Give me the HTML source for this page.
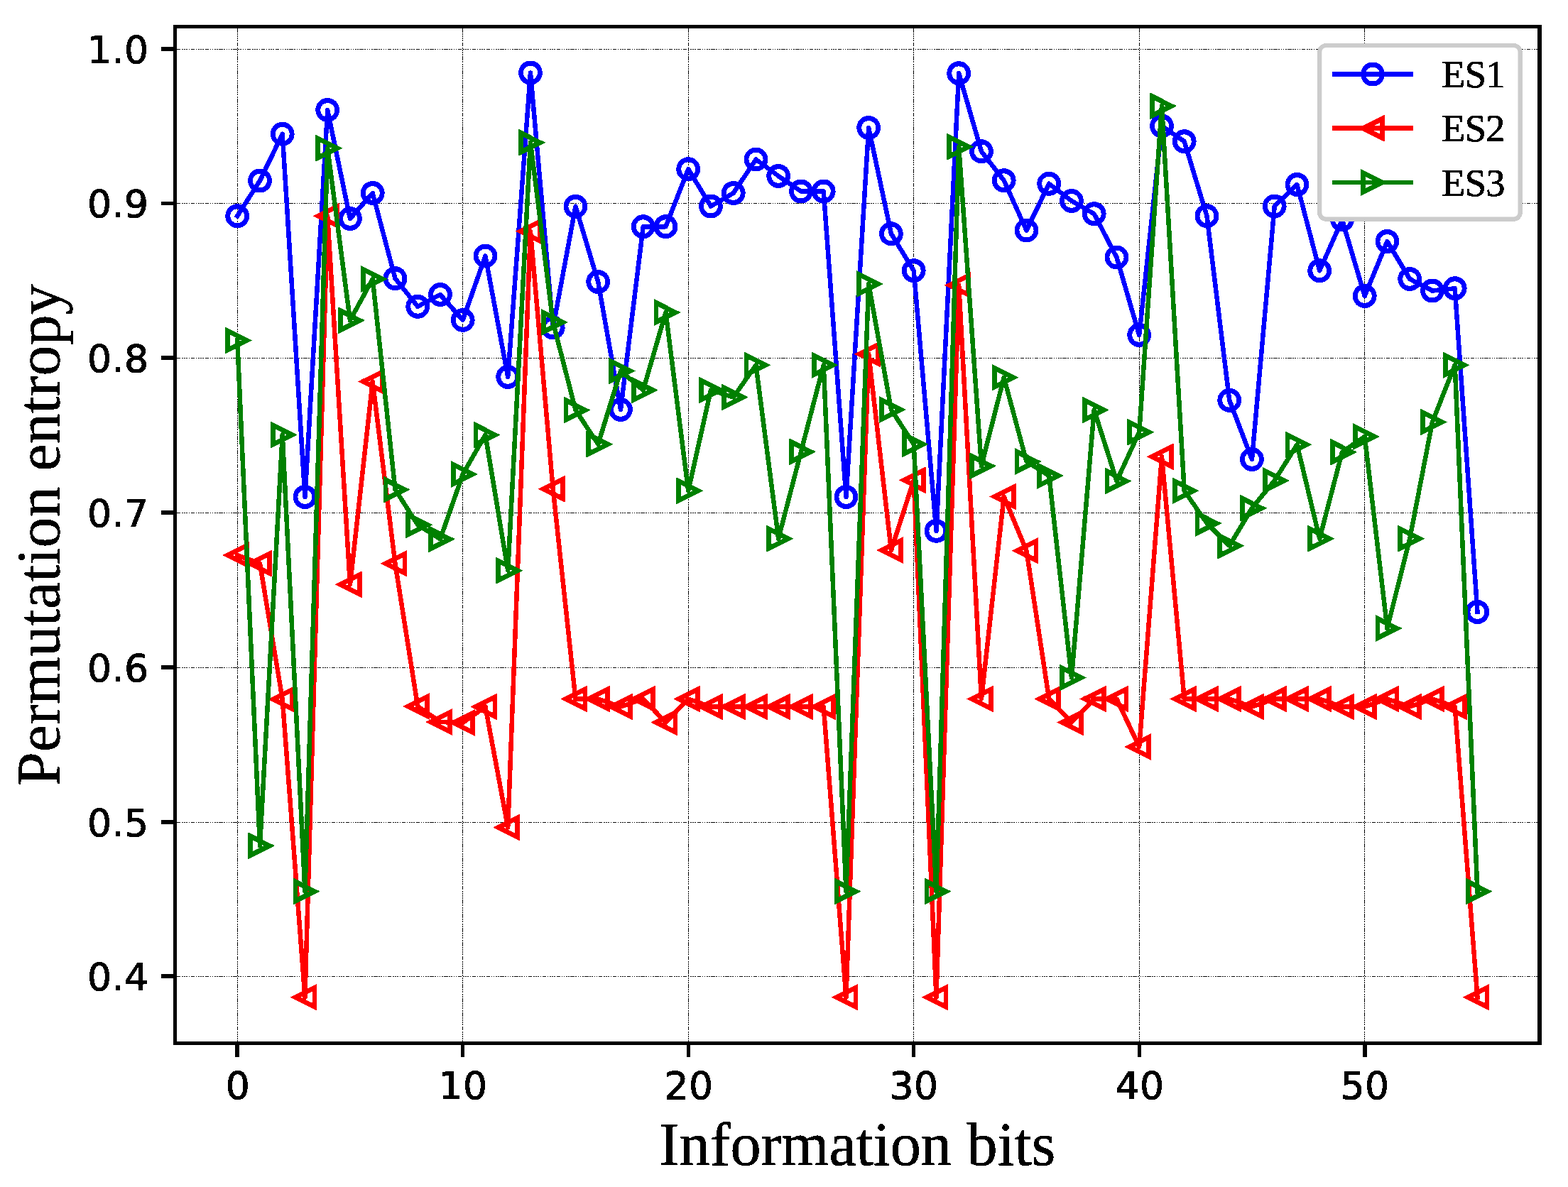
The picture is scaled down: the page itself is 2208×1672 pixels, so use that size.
<!DOCTYPE html>
<html lang="en">
<head>
<meta charset="utf-8">
<title>Permutation entropy vs. information bits</title>
<style>
html,body{margin:0;padding:0;background:#fff;}
body{width:2208px;height:1672px;overflow:hidden;}
svg{display:block;}
</style>
</head>
<body>
<svg width="2208" height="1672" viewBox="0 0 2208 1672">
<defs>
<filter id="bin" filterUnits="userSpaceOnUse" x="0" y="0" width="2208" height="1672" color-interpolation-filters="sRGB">
<feComponentTransfer><feFuncA type="discrete" tableValues="0 1"/></feComponentTransfer>
</filter>
</defs>
<rect width="2208" height="1672" fill="#fff"/>
<g id="grid" stroke="#000" stroke-width="1.15" stroke-dasharray="5.4 1.6 1.6 1.6 1.6 1.6 1.6 1.6 1.6 1.6" fill="none" filter="url(#bin)">
<line x1="334.5" y1="40" x2="334.5" y2="1467"/>
<line x1="651.5" y1="40" x2="651.5" y2="1467"/>
<line x1="969.5" y1="40" x2="969.5" y2="1467"/>
<line x1="1286.5" y1="40" x2="1286.5" y2="1467"/>
<line x1="1604.5" y1="40" x2="1604.5" y2="1467"/>
<line x1="1921.5" y1="40" x2="1921.5" y2="1467"/>
<line x1="249" y1="69.5" x2="2165" y2="69.5"/>
<line x1="249" y1="286.5" x2="2165" y2="286.5"/>
<line x1="249" y1="504.5" x2="2165" y2="504.5"/>
<line x1="249" y1="722.5" x2="2165" y2="722.5"/>
<line x1="249" y1="940.5" x2="2165" y2="940.5"/>
<line x1="249" y1="1158.5" x2="2165" y2="1158.5"/>
<line x1="249" y1="1375.5" x2="2165" y2="1375.5"/>
</g>
<g id="es1" fill="none" stroke="#0000ff" filter="url(#bin)">
<polyline points="334.2,304.25 365.95,254.5 397.7,188.75 429.45,700 461.2,155 492.95,308 524.7,272 556.45,392.25 588.2,431.75 619.95,415 651.7,450.8 683.45,360.5 715.2,531 746.95,102.5 778.7,461.5 810.45,290.75 842.2,397 873.95,577 905.7,319.25 937.45,319.25 969.2,238.25 1000.95,290.5 1032.7,272 1064.45,224.5 1096.2,248 1127.95,269.5 1159.7,269.5 1191.45,700 1223.2,180 1254.95,329.25 1286.7,381.25 1318.45,748 1350.2,103.25 1381.95,213.25 1413.7,254.25 1445.45,324.5 1477.2,258.75 1508.95,283 1540.7,301.25 1572.45,362.5 1604.2,472 1635.95,177.5 1667.7,199.25 1699.45,304.25 1731.2,563.75 1762.95,647 1794.7,290.5 1826.45,260 1858.2,381.25 1889.95,309.5 1921.7,417 1953.45,340 1985.2,393 2016.95,409.5 2048.7,406.25 2080.45,862" stroke-width="6.5" stroke-linejoin="round" stroke-linecap="square"/>
<g stroke-width="6.8" stroke-linejoin="miter" stroke-miterlimit="10">
<circle cx="334.2" cy="304.25" r="13.5"/>
<circle cx="365.95" cy="254.5" r="13.5"/>
<circle cx="397.7" cy="188.75" r="13.5"/>
<circle cx="429.45" cy="700" r="13.5"/>
<circle cx="461.2" cy="155" r="13.5"/>
<circle cx="492.95" cy="308" r="13.5"/>
<circle cx="524.7" cy="272" r="13.5"/>
<circle cx="556.45" cy="392.25" r="13.5"/>
<circle cx="588.2" cy="431.75" r="13.5"/>
<circle cx="619.95" cy="415" r="13.5"/>
<circle cx="651.7" cy="450.8" r="13.5"/>
<circle cx="683.45" cy="360.5" r="13.5"/>
<circle cx="715.2" cy="531" r="13.5"/>
<circle cx="746.95" cy="102.5" r="13.5"/>
<circle cx="778.7" cy="461.5" r="13.5"/>
<circle cx="810.45" cy="290.75" r="13.5"/>
<circle cx="842.2" cy="397" r="13.5"/>
<circle cx="873.95" cy="577" r="13.5"/>
<circle cx="905.7" cy="319.25" r="13.5"/>
<circle cx="937.45" cy="319.25" r="13.5"/>
<circle cx="969.2" cy="238.25" r="13.5"/>
<circle cx="1000.95" cy="290.5" r="13.5"/>
<circle cx="1032.7" cy="272" r="13.5"/>
<circle cx="1064.45" cy="224.5" r="13.5"/>
<circle cx="1096.2" cy="248" r="13.5"/>
<circle cx="1127.95" cy="269.5" r="13.5"/>
<circle cx="1159.7" cy="269.5" r="13.5"/>
<circle cx="1191.45" cy="700" r="13.5"/>
<circle cx="1223.2" cy="180" r="13.5"/>
<circle cx="1254.95" cy="329.25" r="13.5"/>
<circle cx="1286.7" cy="381.25" r="13.5"/>
<circle cx="1318.45" cy="748" r="13.5"/>
<circle cx="1350.2" cy="103.25" r="13.5"/>
<circle cx="1381.95" cy="213.25" r="13.5"/>
<circle cx="1413.7" cy="254.25" r="13.5"/>
<circle cx="1445.45" cy="324.5" r="13.5"/>
<circle cx="1477.2" cy="258.75" r="13.5"/>
<circle cx="1508.95" cy="283" r="13.5"/>
<circle cx="1540.7" cy="301.25" r="13.5"/>
<circle cx="1572.45" cy="362.5" r="13.5"/>
<circle cx="1604.2" cy="472" r="13.5"/>
<circle cx="1635.95" cy="177.5" r="13.5"/>
<circle cx="1667.7" cy="199.25" r="13.5"/>
<circle cx="1699.45" cy="304.25" r="13.5"/>
<circle cx="1731.2" cy="563.75" r="13.5"/>
<circle cx="1762.95" cy="647" r="13.5"/>
<circle cx="1794.7" cy="290.5" r="13.5"/>
<circle cx="1826.45" cy="260" r="13.5"/>
<circle cx="1858.2" cy="381.25" r="13.5"/>
<circle cx="1889.95" cy="309.5" r="13.5"/>
<circle cx="1921.7" cy="417" r="13.5"/>
<circle cx="1953.45" cy="340" r="13.5"/>
<circle cx="1985.2" cy="393" r="13.5"/>
<circle cx="2016.95" cy="409.5" r="13.5"/>
<circle cx="2048.7" cy="406.25" r="13.5"/>
<circle cx="2080.45" cy="862" r="13.5"/>
</g></g>
<g id="es2" fill="none" stroke="#ff0000" filter="url(#bin)">
<polyline points="334.2,782 365.95,793.75 397.7,985 429.45,1404.75 461.2,304.25 492.95,823.25 524.7,537.5 556.45,793.75 588.2,995 619.95,1017 651.7,1018 683.45,995.5 715.2,1165.5 746.95,325.75 778.7,688.75 810.45,984.5 842.2,984.5 873.95,995.5 905.7,984.5 937.45,1017.5 969.2,984.5 1000.95,995.5 1032.7,995.5 1064.45,995.5 1096.2,995.5 1127.95,995.5 1159.7,995.5 1191.45,1404.75 1223.2,498.75 1254.95,775 1286.7,676.25 1318.45,1404.75 1350.2,401.75 1381.95,984.5 1413.7,699.5 1445.45,775.75 1477.2,984.5 1508.95,1017.5 1540.7,984.5 1572.45,984.5 1604.2,1052 1635.95,643.25 1667.7,984.5 1699.45,984.5 1731.2,984.5 1762.95,995.5 1794.7,984.5 1826.45,984.5 1858.2,984.5 1889.95,995.5 1921.7,995.5 1953.45,984.5 1985.2,995.5 2016.95,984.5 2048.7,995.5 2080.45,1404.75" stroke-width="6.5" stroke-linejoin="round" stroke-linecap="square"/>
<g stroke-width="6.8" stroke-linejoin="miter" stroke-miterlimit="10">
<path d="M320.7 782L347.7 795.5L347.7 768.5Z"/>
<path d="M352.45 793.75L379.45 807.25L379.45 780.25Z"/>
<path d="M384.2 985L411.2 998.5L411.2 971.5Z"/>
<path d="M415.95 1404.75L442.95 1418.25L442.95 1391.25Z"/>
<path d="M447.7 304.25L474.7 317.75L474.7 290.75Z"/>
<path d="M479.45 823.25L506.45 836.75L506.45 809.75Z"/>
<path d="M511.2 537.5L538.2 551L538.2 524Z"/>
<path d="M542.95 793.75L569.95 807.25L569.95 780.25Z"/>
<path d="M574.7 995L601.7 1008.5L601.7 981.5Z"/>
<path d="M606.45 1017L633.45 1030.5L633.45 1003.5Z"/>
<path d="M638.2 1018L665.2 1031.5L665.2 1004.5Z"/>
<path d="M669.95 995.5L696.95 1009L696.95 982Z"/>
<path d="M701.7 1165.5L728.7 1179L728.7 1152Z"/>
<path d="M733.45 325.75L760.45 339.25L760.45 312.25Z"/>
<path d="M765.2 688.75L792.2 702.25L792.2 675.25Z"/>
<path d="M796.95 984.5L823.95 998L823.95 971Z"/>
<path d="M828.7 984.5L855.7 998L855.7 971Z"/>
<path d="M860.45 995.5L887.45 1009L887.45 982Z"/>
<path d="M892.2 984.5L919.2 998L919.2 971Z"/>
<path d="M923.95 1017.5L950.95 1031L950.95 1004Z"/>
<path d="M955.7 984.5L982.7 998L982.7 971Z"/>
<path d="M987.45 995.5L1014.45 1009L1014.45 982Z"/>
<path d="M1019.2 995.5L1046.2 1009L1046.2 982Z"/>
<path d="M1050.95 995.5L1077.95 1009L1077.95 982Z"/>
<path d="M1082.7 995.5L1109.7 1009L1109.7 982Z"/>
<path d="M1114.45 995.5L1141.45 1009L1141.45 982Z"/>
<path d="M1146.2 995.5L1173.2 1009L1173.2 982Z"/>
<path d="M1177.95 1404.75L1204.95 1418.25L1204.95 1391.25Z"/>
<path d="M1209.7 498.75L1236.7 512.25L1236.7 485.25Z"/>
<path d="M1241.45 775L1268.45 788.5L1268.45 761.5Z"/>
<path d="M1273.2 676.25L1300.2 689.75L1300.2 662.75Z"/>
<path d="M1304.95 1404.75L1331.95 1418.25L1331.95 1391.25Z"/>
<path d="M1336.7 401.75L1363.7 415.25L1363.7 388.25Z"/>
<path d="M1368.45 984.5L1395.45 998L1395.45 971Z"/>
<path d="M1400.2 699.5L1427.2 713L1427.2 686Z"/>
<path d="M1431.95 775.75L1458.95 789.25L1458.95 762.25Z"/>
<path d="M1463.7 984.5L1490.7 998L1490.7 971Z"/>
<path d="M1495.45 1017.5L1522.45 1031L1522.45 1004Z"/>
<path d="M1527.2 984.5L1554.2 998L1554.2 971Z"/>
<path d="M1558.95 984.5L1585.95 998L1585.95 971Z"/>
<path d="M1590.7 1052L1617.7 1065.5L1617.7 1038.5Z"/>
<path d="M1622.45 643.25L1649.45 656.75L1649.45 629.75Z"/>
<path d="M1654.2 984.5L1681.2 998L1681.2 971Z"/>
<path d="M1685.95 984.5L1712.95 998L1712.95 971Z"/>
<path d="M1717.7 984.5L1744.7 998L1744.7 971Z"/>
<path d="M1749.45 995.5L1776.45 1009L1776.45 982Z"/>
<path d="M1781.2 984.5L1808.2 998L1808.2 971Z"/>
<path d="M1812.95 984.5L1839.95 998L1839.95 971Z"/>
<path d="M1844.7 984.5L1871.7 998L1871.7 971Z"/>
<path d="M1876.45 995.5L1903.45 1009L1903.45 982Z"/>
<path d="M1908.2 995.5L1935.2 1009L1935.2 982Z"/>
<path d="M1939.95 984.5L1966.95 998L1966.95 971Z"/>
<path d="M1971.7 995.5L1998.7 1009L1998.7 982Z"/>
<path d="M2003.45 984.5L2030.45 998L2030.45 971Z"/>
<path d="M2035.2 995.5L2062.2 1009L2062.2 982Z"/>
<path d="M2066.95 1404.75L2093.95 1418.25L2093.95 1391.25Z"/>
</g></g>
<g id="es3" fill="none" stroke="#008000" filter="url(#bin)">
<polyline points="334.2,479.5 365.95,1191.25 397.7,612.5 429.45,1255.5 461.2,208.75 492.95,451.25 524.7,393 556.45,689.5 588.2,739.25 619.95,759.25 651.7,668 683.45,612.5 715.2,803.75 746.95,200.75 778.7,453.9 810.45,577.5 842.2,625.75 873.95,522.5 905.7,549.5 937.45,440 969.2,691.25 1000.95,549.5 1032.7,559.5 1064.45,514.25 1096.2,758.75 1127.95,636.25 1159.7,514.25 1191.45,1255.5 1223.2,400 1254.95,577 1286.7,625.75 1318.45,1255.5 1350.2,206.75 1381.95,656.25 1413.7,531.75 1445.45,650 1477.2,670 1508.95,954.5 1540.7,577.5 1572.45,677.5 1604.2,608.75 1635.95,149.25 1667.7,691.25 1699.45,737 1731.2,768.75 1762.95,715.75 1794.7,677 1826.45,626.25 1858.2,758.75 1889.95,636.75 1921.7,615 1953.45,885 1985.2,758.75 2016.95,594.5 2048.7,514.25 2080.45,1255.5" stroke-width="6.5" stroke-linejoin="round" stroke-linecap="square"/>
<g stroke-width="6.8" stroke-linejoin="miter" stroke-miterlimit="10">
<path d="M347.7 479.5L320.7 466L320.7 493Z"/>
<path d="M379.45 1191.25L352.45 1177.75L352.45 1204.75Z"/>
<path d="M411.2 612.5L384.2 599L384.2 626Z"/>
<path d="M442.95 1255.5L415.95 1242L415.95 1269Z"/>
<path d="M474.7 208.75L447.7 195.25L447.7 222.25Z"/>
<path d="M506.45 451.25L479.45 437.75L479.45 464.75Z"/>
<path d="M538.2 393L511.2 379.5L511.2 406.5Z"/>
<path d="M569.95 689.5L542.95 676L542.95 703Z"/>
<path d="M601.7 739.25L574.7 725.75L574.7 752.75Z"/>
<path d="M633.45 759.25L606.45 745.75L606.45 772.75Z"/>
<path d="M665.2 668L638.2 654.5L638.2 681.5Z"/>
<path d="M696.95 612.5L669.95 599L669.95 626Z"/>
<path d="M728.7 803.75L701.7 790.25L701.7 817.25Z"/>
<path d="M760.45 200.75L733.45 187.25L733.45 214.25Z"/>
<path d="M792.2 453.9L765.2 440.4L765.2 467.4Z"/>
<path d="M823.95 577.5L796.95 564L796.95 591Z"/>
<path d="M855.7 625.75L828.7 612.25L828.7 639.25Z"/>
<path d="M887.45 522.5L860.45 509L860.45 536Z"/>
<path d="M919.2 549.5L892.2 536L892.2 563Z"/>
<path d="M950.95 440L923.95 426.5L923.95 453.5Z"/>
<path d="M982.7 691.25L955.7 677.75L955.7 704.75Z"/>
<path d="M1014.45 549.5L987.45 536L987.45 563Z"/>
<path d="M1046.2 559.5L1019.2 546L1019.2 573Z"/>
<path d="M1077.95 514.25L1050.95 500.75L1050.95 527.75Z"/>
<path d="M1109.7 758.75L1082.7 745.25L1082.7 772.25Z"/>
<path d="M1141.45 636.25L1114.45 622.75L1114.45 649.75Z"/>
<path d="M1173.2 514.25L1146.2 500.75L1146.2 527.75Z"/>
<path d="M1204.95 1255.5L1177.95 1242L1177.95 1269Z"/>
<path d="M1236.7 400L1209.7 386.5L1209.7 413.5Z"/>
<path d="M1268.45 577L1241.45 563.5L1241.45 590.5Z"/>
<path d="M1300.2 625.75L1273.2 612.25L1273.2 639.25Z"/>
<path d="M1331.95 1255.5L1304.95 1242L1304.95 1269Z"/>
<path d="M1363.7 206.75L1336.7 193.25L1336.7 220.25Z"/>
<path d="M1395.45 656.25L1368.45 642.75L1368.45 669.75Z"/>
<path d="M1427.2 531.75L1400.2 518.25L1400.2 545.25Z"/>
<path d="M1458.95 650L1431.95 636.5L1431.95 663.5Z"/>
<path d="M1490.7 670L1463.7 656.5L1463.7 683.5Z"/>
<path d="M1522.45 954.5L1495.45 941L1495.45 968Z"/>
<path d="M1554.2 577.5L1527.2 564L1527.2 591Z"/>
<path d="M1585.95 677.5L1558.95 664L1558.95 691Z"/>
<path d="M1617.7 608.75L1590.7 595.25L1590.7 622.25Z"/>
<path d="M1649.45 149.25L1622.45 135.75L1622.45 162.75Z"/>
<path d="M1681.2 691.25L1654.2 677.75L1654.2 704.75Z"/>
<path d="M1712.95 737L1685.95 723.5L1685.95 750.5Z"/>
<path d="M1744.7 768.75L1717.7 755.25L1717.7 782.25Z"/>
<path d="M1776.45 715.75L1749.45 702.25L1749.45 729.25Z"/>
<path d="M1808.2 677L1781.2 663.5L1781.2 690.5Z"/>
<path d="M1839.95 626.25L1812.95 612.75L1812.95 639.75Z"/>
<path d="M1871.7 758.75L1844.7 745.25L1844.7 772.25Z"/>
<path d="M1903.45 636.75L1876.45 623.25L1876.45 650.25Z"/>
<path d="M1935.2 615L1908.2 601.5L1908.2 628.5Z"/>
<path d="M1966.95 885L1939.95 871.5L1939.95 898.5Z"/>
<path d="M1998.7 758.75L1971.7 745.25L1971.7 772.25Z"/>
<path d="M2030.45 594.5L2003.45 581L2003.45 608Z"/>
<path d="M2062.2 514.25L2035.2 500.75L2035.2 527.75Z"/>
<path d="M2093.95 1255.5L2066.95 1242L2066.95 1269Z"/>
</g></g>
<g id="axes" fill="#000" shape-rendering="crispEdges">
<rect x="244" y="35" width="5" height="1437"/>
<rect x="2165" y="35" width="6" height="1437"/>
<rect x="244" y="35" width="1927" height="5"/>
<rect x="244" y="1467" width="1927" height="5"/>
<rect x="331" y="1470" width="6" height="18.5"/>
<rect x="649" y="1470" width="5" height="18.5"/>
<rect x="967" y="1470" width="5" height="18.5"/>
<rect x="1284" y="1470" width="5" height="18.5"/>
<rect x="1602" y="1470" width="5" height="18.5"/>
<rect x="1919" y="1470" width="6" height="18.5"/>
<rect x="227" y="66" width="19" height="6"/>
<rect x="227" y="284" width="19" height="5"/>
<rect x="227" y="501" width="19" height="6"/>
<rect x="227" y="719" width="19" height="6"/>
<rect x="227" y="937" width="19" height="6"/>
<rect x="227" y="1155" width="19" height="6"/>
<rect x="227" y="1372" width="19" height="6"/>
</g>
<g id="ticklabels" font-family="'DejaVu Sans', 'Liberation Sans', sans-serif" font-size="53.6" fill="#000" stroke="#000" stroke-width="1.1" stroke-linejoin="round" letter-spacing="0.4" filter="url(#bin)">
<text x="335" y="1548.4" text-anchor="middle">0</text>
<text x="652" y="1548.4" text-anchor="middle">10</text>
<text x="970" y="1548.4" text-anchor="middle">20</text>
<text x="1287" y="1548.4" text-anchor="middle">30</text>
<text x="1605" y="1548.4" text-anchor="middle">40</text>
<text x="1922" y="1548.4" text-anchor="middle">50</text>
<text x="209.5" y="88.9" text-anchor="end">1.0</text>
<text x="209.5" y="305.9" text-anchor="end">0.9</text>
<text x="209.5" y="523.9" text-anchor="end">0.8</text>
<text x="209.5" y="741.9" text-anchor="end">0.7</text>
<text x="209.5" y="959.9" text-anchor="end">0.6</text>
<text x="209.5" y="1177.9" text-anchor="end">0.5</text>
<text x="209.5" y="1394.9" text-anchor="end">0.4</text>
</g>
<g id="axislabels" font-family="'Liberation Serif', 'DejaVu Serif', serif" font-size="86.3" fill="#000" stroke="#000" stroke-width="0.6" filter="url(#bin)">
<text x="1207" y="1640.6" text-anchor="middle">Information bits</text>
<text transform="translate(83.5 753.6) rotate(-90)" text-anchor="middle">Permutation entropy</text>
</g>
<g id="legend">
<rect x="1858.2" y="64.0" width="282.4" height="244.6" rx="9" ry="9" fill="#fff" stroke="#cccccc" stroke-width="6.2" filter="url(#bin)"/>
<g fill="none" stroke="#0000ff" filter="url(#bin)"><line x1="1876" y1="104.5" x2="1990" y2="104.5" stroke-width="6.5"/><g stroke-width="6.8" stroke-linejoin="miter" stroke-miterlimit="10"><circle cx="1933" cy="104.5" r="13.5"/></g></g>
<g fill="none" stroke="#ff0000" filter="url(#bin)"><line x1="1876" y1="180.7" x2="1990" y2="180.7" stroke-width="6.5"/><g stroke-width="6.8" stroke-linejoin="miter" stroke-miterlimit="10"><path d="M1919.5 180.7L1946.5 194.2L1946.5 167.2Z"/></g></g>
<g fill="none" stroke="#008000" filter="url(#bin)"><line x1="1876" y1="257.0" x2="1990" y2="257.0" stroke-width="6.5"/><g stroke-width="6.8" stroke-linejoin="miter" stroke-miterlimit="10"><path d="M1946.5 257L1919.5 243.5L1919.5 270.5Z"/></g></g>
<g font-family="'Liberation Serif', 'DejaVu Serif', serif" font-size="54.3" fill="#000" stroke="#000" stroke-width="0.8" letter-spacing="-0.5" filter="url(#bin)">
<text x="2030" y="123.1">ES1</text>
<text x="2030" y="199.3">ES2</text>
<text x="2030" y="275.6">ES3</text>
</g>
</g>
</svg>
</body>
</html>
